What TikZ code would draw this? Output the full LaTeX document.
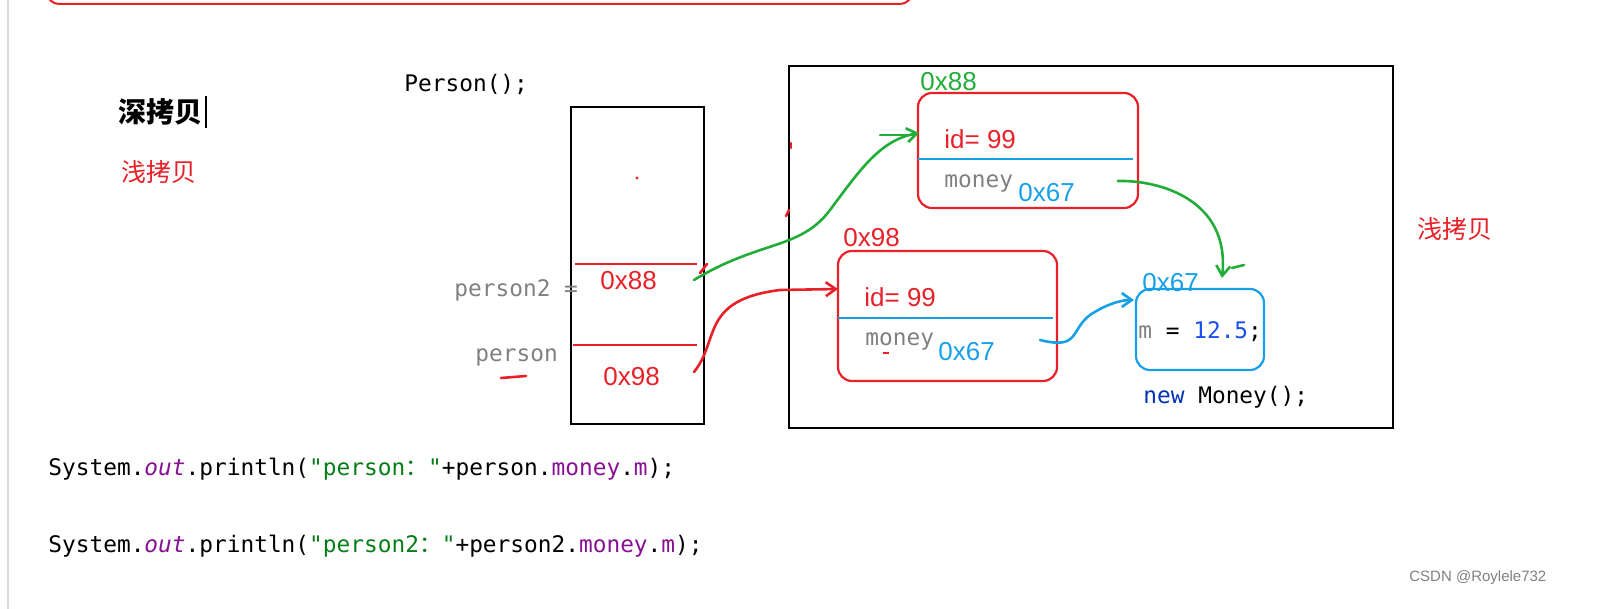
\documentclass[tikz,border=0pt]{standalone}
\usepackage{fontspec}
\setmainfont{Liberation Sans}
\setmonofont{DejaVu Sans Mono}
\newfontfamily\cjk{Noto Sans CJK SC}
\usetikzlibrary{arrows.meta}
\definecolor{hred}{RGB}{232,32,40}
\definecolor{hgreen}{RGB}{34,172,56}
\definecolor{hblue}{RGB}{22,160,232}
\definecolor{kpurple}{RGB}{135,16,148}
\definecolor{kgreen}{RGB}{6,125,23}
\definecolor{knum}{RGB}{23,80,235}
\definecolor{kkey}{RGB}{0,51,179}
\definecolor{kgray}{RGB}{128,128,128}
\begin{document}
\begin{tikzpicture}[x=0.5pt,y=-0.5pt,
  lbl/.style={anchor=west,inner sep=0pt,font=\fontsize{13}{15}\selectfont},
  code/.style={anchor=west,inner sep=0pt,font=\ttfamily\fontsize{11.4}{13}\selectfont},
  hand/.style={line width=1.3pt,line cap=round},
  tipa/.style={-{Straight Barb[length=5pt,width=7pt]}}]
\useasboundingbox (0,0) rectangle (1608,609);
\begin{scope}
\clip (0,0) rectangle (1608,609);
\draw[hred,line width=1pt,rounded corners=6pt] (47,-30) rectangle (912,4);
\end{scope}
\draw[gray!30,line width=0.8pt] (8,0) -- (8,609);
\node[lbl,anchor=west,font=\cjk\bfseries\fontsize{14}{16}\selectfont] (deep) at (118,112) {深拷贝};
\draw[black,line width=0.6pt] (206,96) -- (206,128);
\node[lbl,text=hred,font=\cjk\fontsize{12.5}{15}\selectfont] (sh1) at (121,172) {浅拷贝};
\node[lbl,text=hred,font=\cjk\fontsize{12.5}{15}\selectfont] (sh2) at (1417,229) {浅拷贝};
\node[code] (pc) at (404,84) {Person();};
% stack
\node[draw,line width=1pt,minimum width=66.5pt,minimum height=158.5pt,inner sep=0pt] (stack) at (637.5,265.5) {};
\draw[hred,line width=1.1pt] (575,264) -- (697,264);
\draw[hred,line width=1.1pt] (573,345) -- (697,345);
\fill[hred] (637,178) circle (0.8pt);
\node[lbl,text=hred] (a88) at (600,281) {0x88};
\node[lbl,text=hred] (a98) at (603,377) {0x98};
\node[code,text=kgray] (p2) at (454,290) {person2 =};
\node[code,text=kgray] (p1) at (475,357) {person};
\draw[hred,hand] (501,378) -- (526,376);
% heap
\node[draw,line width=1pt,minimum width=302pt,minimum height=181pt,inner sep=0pt] (heap) at (1091,247) {};
\node[draw=hred,line width=1.1pt,rounded corners=7pt,minimum width=110pt,minimum height=57.5pt,inner sep=0pt] (o1) at (1028,150.5) {};
\draw[hblue,line width=1.1pt] (918,159) -- (1133,159);
\node[lbl,text=hgreen] (g88) at (920,82) {0x88};
\node[lbl,text=hred] (id1) at (944,139) {id= 99};
\node[code,text=kgray] (m1) at (944,183) {money};
\node[lbl,text=hblue] (b1) at (1018,193) {0x67};
\node[draw=hred,line width=1.1pt,rounded corners=7pt,minimum width=109.5pt,minimum height=65pt,inner sep=0pt] (o2) at (947.5,316) {};
\draw[hblue,line width=1.1pt] (838,318) -- (1053,318);
\node[lbl,text=hred] (r98) at (843,238) {0x98};
\node[lbl,text=hred] (id2) at (864,297) {id= 99};
\node[code,text=kgray] (m2) at (865,341) {money};
\draw[hred,line width=0.8pt] (883,353) -- (889,353);
\node[lbl,text=hblue] (b2) at (938,352) {0x67};
\node[draw=hblue,line width=1.1pt,rounded corners=7pt,minimum width=64pt,minimum height=40.5pt,inner sep=0pt] (mon) at (1200,329.5) {};
\node[lbl,text=hblue] (b3) at (1142,283) {0x67};
\node[code] (mv) at (1138,332) {\textcolor{kgray}{m} = \textcolor{knum}{12.5};};
\node[code] (nm) at (1143,397) {\textcolor{kkey}{new} Money();};
% arrows
\draw[hgreen,hand,tipa] (694,280) .. controls (760,240) and (800,250) .. (830,210) .. controls (860,170) and (880,140) .. (919,133);
\draw[hgreen,hand] (880,135) -- (912,135);
\draw[hred,hand,tipa] (694,372) .. controls (720,340) and (700,300) .. (780,290) -- (838,289);
\draw[hgreen,hand,tipa] (1118,181) .. controls (1160,180) and (1230,200) .. (1222,278);
\draw[hgreen,hand] (1232,268) -- (1244,265);
\draw[hblue,hand,tipa] (1040,340) .. controls (1080,350) and (1070,330) .. (1090,315) .. controls (1105,305) and (1120,300) .. (1134,300);
\draw[hred,hand] (700,273) -- (707,264);
\draw[hred,hand] (786,216) -- (789,210);
\draw[hred,hand] (791,143) -- (791,148);
% code
\node[code] (c1) at (48,469) {System.\textcolor{kpurple}{\itshape out}.println(\textcolor{kgreen}{"person{\cjk ：}"}+person.\textcolor{kpurple}{money}.\textcolor{kpurple}{m});};
\node[code] (c2) at (48,546) {System.\textcolor{kpurple}{\itshape out}.println(\textcolor{kgreen}{"person2{\cjk ：}"}+person2.\textcolor{kpurple}{money}.\textcolor{kpurple}{m});};
\node[lbl,text=kgray,font=\fontsize{7.5}{9}\selectfont] (csdn) at (1409,578) {CSDN @Roylele732};
\end{tikzpicture}
\end{document}
